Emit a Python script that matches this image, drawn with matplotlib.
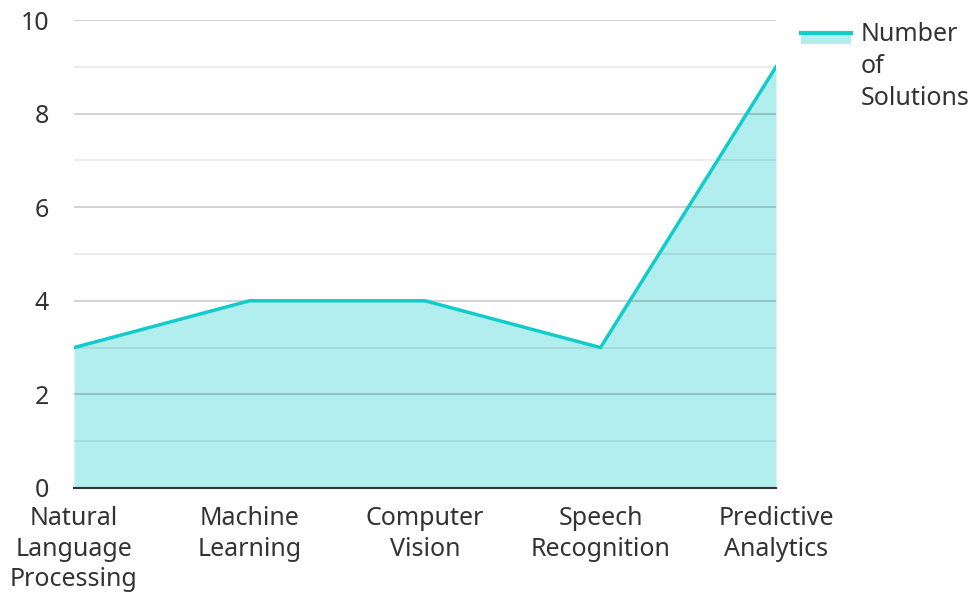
import matplotlib.pyplot as plt
from matplotlib.lines import Line2D
from matplotlib.patches import Rectangle

categories = ["Natural\nLanguage\nProcessing", "Machine\nLearning", "Computer\nVision",
              "Speech\nRecognition", "Predictive\nAnalytics"]
solutions = [3, 4, 4, 3, 9]
series_name = "Number\nof\nSolutions"

line_color = "#12cccc"
fill_color = "#b2eeee"
text_color = "#333333"

plt.rcParams["font.family"] = ["Noto Sans", "DejaVu Sans"]

fig = plt.figure(figsize=(9.71, 5.94), dpi=100)
ax = fig.add_axes([0.0762, 0.1785, 0.7230, 0.7878])

x = list(range(len(categories)))
ax.fill_between(x, solutions, 0, color=fill_color, linewidth=0, zorder=1)
ax.plot(x, solutions, color=line_color, linewidth=2.5, zorder=3)

ax.set_xlim(0, len(categories) - 1)
ax.set_ylim(0, 10)
ax.set_yticks(range(0, 11, 2))
ax.set_yticks(range(1, 11, 2), minor=True)
ax.grid(True, which="major", axis="y", color="black", alpha=0.2, linewidth=1.2, zorder=2)
ax.grid(True, which="minor", axis="y", color="black", alpha=0.09, linewidth=1.2, zorder=2)
ax.set_axisbelow(False)
ax.set_xticks(x)
ax.set_xticklabels(categories, linespacing=1.3)

for s in ["top", "right", "left"]:
    ax.spines[s].set_visible(False)
ax.spines["bottom"].set_color(text_color)
ax.spines["bottom"].set_linewidth(1.5)
ax.spines["bottom"].set_zorder(4)

ax.tick_params(axis="both", which="both", length=0, labelsize=18, labelcolor=text_color)
ax.tick_params(axis="y", pad=18)
ax.tick_params(axis="x", pad=13)

# legend
fig.add_artist(Rectangle((801 / 971, 1 - 44 / 594), 50 / 971, 10 / 594,
                         transform=fig.transFigure, color=fill_color, linewidth=0))
fig.add_artist(Line2D([801 / 971, 851 / 971], [1 - 33 / 594, 1 - 33 / 594],
                      transform=fig.transFigure, color=line_color, linewidth=3))
fig.text(861 / 971, 1 - 22 / 594, series_name, ha="left", va="top",
         fontsize=18, color=text_color, linespacing=1.38)

fig.savefig("out.png", dpi=100)
